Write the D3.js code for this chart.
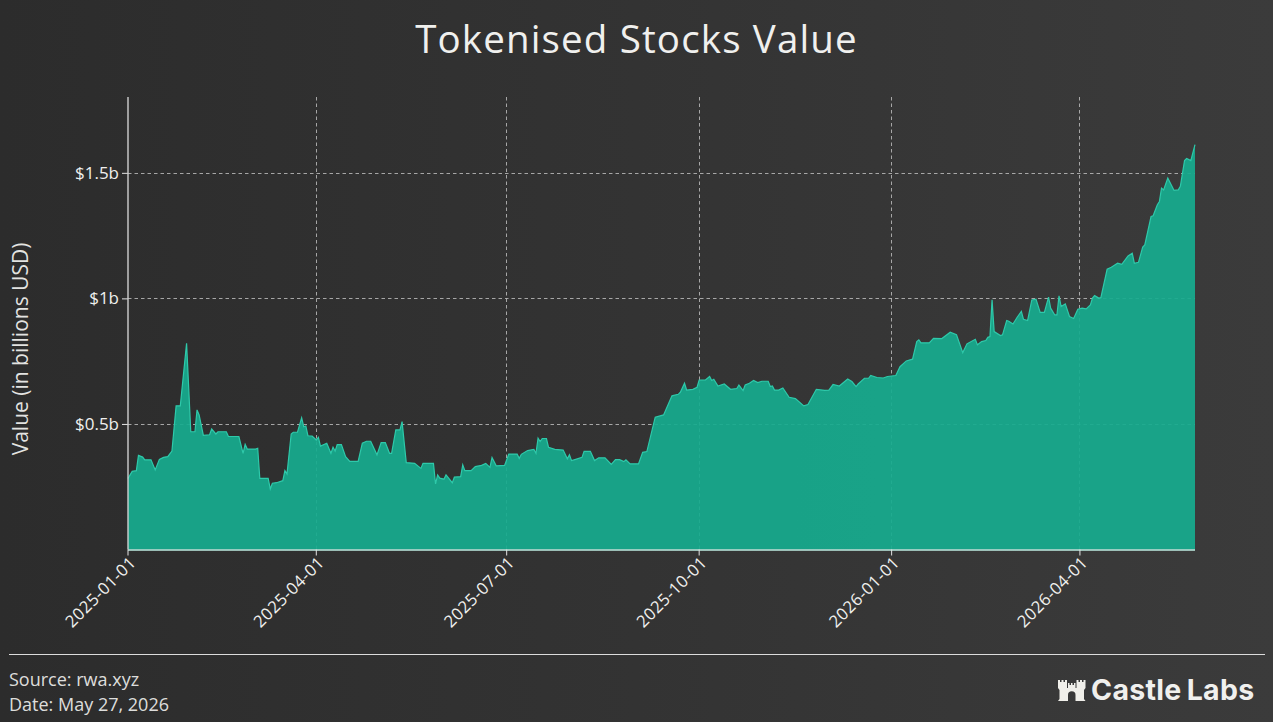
<!DOCTYPE html>
<html>
<head>
<meta charset="utf-8">
<script src="https://cdn.jsdelivr.net/npm/d3@7"></script>
<style>
html, body { margin: 0; padding: 0; background: #333; overflow: hidden; }
svg { display: block; }
text { font-family: "Open Sans", sans-serif; fill: #f0f0ee; }
</style>
</head>
<body>
<svg id="chart" width="1273" height="722"></svg>
<script>
// Days since 2025-01-01 and total tokenised stock value in millions of USD.
const dayOffsets = [
  0,1,2,4,5,7,8,11,13,15,17,19,21,23,25,28,30,32,33,34,36,39,40,42,43,47,48,53,55,56,57,61,62,63,67,68,69,71,74,75,76,78,79,81,83,84,85,86,88,90,
  91,92,95,97,98,99,100,102,104,106,110,112,114,116,119,121,123,125,126,128,130,131,133,137,140,141,146,147,148,149,151,152,155,156,159,160,161,164,166,169,171,173,174,176,180,182,186,187,188,191,
  194,195,196,197,198,200,201,204,208,210,211,212,214,217,218,221,223,225,228,231,233,235,237,238,240,244,246,248,252,256,260,263,264,266,267,270,272,273,276,278,279,280,282,285,288,291,292,294,295,297,
  299,301,303,306,307,308,309,311,313,316,319,323,325,329,333,335,337,340,344,346,348,349,352,354,355,358,361,363,367,369,372,375,377,378,379,383,385,389,393,396,399,401,405,406,408,410,411,412,413,414,
  417,418,420,421,423,425,427,428,430,432,434,436,438,440,441,443,444,445,446,448,450,452,454,456,458,460,461,462,464,465,468,470,473,475,478,480,481,483,485,486,489,490,492,493,494,495,497,500,502,503,505,506,508,510
];
const valuesMillions = [
  283,297,311,314,375,368,357,357,317,359,367,370,392,572,572,821,469,469,556,536,455,457,480,460,469,469,450,450,383,419,400,400,403,283,283,241,264,266,274,314,301,460,467,467,524,489,492,453,452,436,
  447,412,423,383,407,392,418,418,370,351,351,423,431,431,377,426,426,383,383,476,476,509,346,343,323,343,343,261,297,284,280,297,266,288,290,337,314,314,330,335,343,327,366,333,335,380,380,363,379,394,
  399,383,443,430,442,442,407,399,396,361,377,354,359,367,391,391,354,365,365,339,358,358,350,357,341,341,387,390,527,536,612,618,626,662,635,638,646,675,675,689,673,678,651,659,638,641,655,633,655,662,
  673,665,670,670,649,651,635,635,643,606,601,572,577,638,634,635,657,651,679,669,649,659,682,682,693,685,683,689,693,728,751,758,828,835,823,823,841,840,865,855,784,819,837,815,828,832,845,848,994,868,
  852,855,912,909,898,925,948,917,912,994,997,944,944,1005,961,934,934,1010,968,978,928,920,957,961,958,974,1001,1011,1001,1003,1116,1124,1140,1136,1169,1180,1140,1144,1204,1213,1326,1329,1373,1386,1439,1432,1479,1430,1432,1446,1549,1557,1549,1612
];
const xTickDates = ["2025-01-01","2025-04-01","2025-07-01","2025-10-01","2026-01-01","2026-04-01"];
const yTickValues = [500, 1000, 1500];
const yTickLabels = ["$0.5b", "$1b", "$1.5b"];
const chartTitle = "Tokenised Stocks Value";
const yAxisTitle = "Value (in billions USD)";
const footerLines = ["Source: rwa.xyz", "Date: May 27, 2026"];
const brandName = "Castle Labs";

const parseDate = d3.utcParse("%Y-%m-%d");
const startDate = parseDate("2025-01-01");
const series = dayOffsets.map((d, i) => ({
  date: d3.utcDay.offset(startDate, d),
  value: valuesMillions[i]
}));

const plot = { left: 128, right: 1195, top: 97, bottom: 549.5 };
const x = d3.scaleUtc()
  .domain([startDate, d3.utcDay.offset(startDate, 510)])
  .range([plot.left, plot.right]);
const y = d3.scaleLinear()
  .domain([0, 1802])
  .range([plot.bottom, plot.top]);

const svg = d3.select("#chart");

// Page background: a soft left-to-right lift in the charcoal.
const defs = svg.append("defs");
const bg = defs.append("linearGradient").attr("id", "page-bg")
  .attr("x1", 0).attr("y1", 0).attr("x2", 1).attr("y2", 0);
bg.append("stop").attr("offset", "0%").attr("stop-color", "#2c2c2c");
bg.append("stop").attr("offset", "50%").attr("stop-color", "#333333");
bg.append("stop").attr("offset", "100%").attr("stop-color", "#3b3b3b");
svg.append("rect").attr("width", 1273).attr("height", 722).attr("fill", "url(#page-bg)");

// Dashed reference grid, drawn under the translucent area.
const grid = svg.append("g")
  .attr("stroke", "#c4c4c4")
  .attr("stroke-opacity", 0.8)
  .attr("stroke-width", 1)
  .attr("stroke-dasharray", "3.5 3");
grid.selectAll("line.v").data(xTickDates.slice(1)).join("line")
  .attr("class", "v")
  .attr("x1", d => Math.floor(x(parseDate(d))) + 0.5)
  .attr("x2", d => Math.floor(x(parseDate(d))) + 0.5)
  .attr("y1", plot.top).attr("y2", plot.bottom);
grid.selectAll("line.h").data(yTickValues).join("line")
  .attr("class", "h")
  .attr("x1", plot.left).attr("x2", plot.right)
  .attr("y1", d => Math.round(y(d)) + 0.5)
  .attr("y2", d => Math.round(y(d)) + 0.5);

// Value area with a slightly brighter outline along its top edge.
const area = d3.area()
  .x(d => x(d.date))
  .y0(y(0))
  .y1(d => y(d.value))
  .curve(d3.curveLinear);
const topLine = d3.line()
  .x(d => x(d.date))
  .y(d => y(d.value))
  .curve(d3.curveLinear);
svg.append("path").datum(series)
  .attr("d", area)
  .attr("fill", "#17ab8e")
  .attr("fill-opacity", 0.93);
svg.append("path").datum(series)
  .attr("d", topLine)
  .attr("fill", "none")
  .attr("stroke", "#2ec9aa")
  .attr("stroke-width", 1.2);

// Axes.
const xAxis = d3.axisBottom(x)
  .tickValues(xTickDates.map(parseDate))
  .tickFormat(d3.utcFormat("%Y-%m-%d"))
  .tickSizeInner(6).tickSizeOuter(0).tickPadding(3);
const gx = svg.append("g")
  .attr("transform", `translate(-0.5,${plot.bottom})`)
  .call(xAxis);
gx.select(".domain").attr("stroke", "#bfeee3").attr("stroke-width", 1.4);
gx.selectAll(".tick line").attr("stroke", "#e4e4e4");
gx.selectAll(".tick text")
  .attr("font-size", 16.7)
  .attr("text-anchor", "end")
  .attr("dx", -3.7)
  .attr("dy", 7.4)
  .attr("transform", "rotate(-45)")
  .style("letter-spacing", "0.45px");

const yAxis = d3.axisLeft(y)
  .tickValues(yTickValues)
  .tickFormat((d, i) => yTickLabels[i])
  .tickSize(6).tickPadding(3);
const gy = svg.append("g")
  .attr("transform", `translate(${plot.left},0)`)
  .call(yAxis);
gy.select(".domain").remove();
gy.selectAll(".tick line").attr("stroke", "#e4e4e4");
gy.selectAll(".tick text").attr("font-size", 17);
svg.append("line")
  .attr("x1", plot.left).attr("x2", plot.left)
  .attr("y1", plot.top).attr("y2", plot.bottom)
  .attr("stroke", "#cfcfcf").attr("stroke-width", 1.4);

// Title and axis title.
svg.append("text")
  .attr("x", 636.5).attr("y", 53)
  .attr("text-anchor", "middle")
  .attr("font-size", 38.5)
  .style("letter-spacing", "1.15px")
  .text(chartTitle);
svg.append("text")
  .attr("transform", "translate(28,349) rotate(-90)")
  .attr("text-anchor", "middle")
  .attr("font-size", 21)
  .attr("fill-opacity", 0.95)
  .text(yAxisTitle);

// Footer rule, source notes and wordmark.
svg.append("line")
  .attr("x1", 9).attr("x2", 1265)
  .attr("y1", 654.5).attr("y2", 654.5)
  .attr("stroke", "#dcdcdc").attr("stroke-width", 1.2);
svg.selectAll("text.note").data(footerLines).join("text")
  .attr("class", "note")
  .attr("x", 9)
  .attr("y", (d, i) => 686 + i * 25)
  .attr("font-size", 18)
  .attr("fill-opacity", 0.92)
  .text(d => d);

// Castle emblem: two outer towers, a lower crenellated wall and an arched gate.
const logo = svg.append("g").attr("transform", "translate(1058,680)").attr("fill", "#f0efea");
logo.append("path")
  .attr("fill-rule", "evenodd")
  .attr("d", "M0 0h2v2h1.5V0h2v2H7V0h2v8h1V3h1.5v2H13V3h1.5v2H16V3h1.5v5h1V0h2v2H22V0h2v2h1.5V0h2v8l-1.5 2v9l1.5 2H0l1.5-2v-9L0 8ZM10 21v-6a3.7 3.7 0 0 1 7.5 0v6Z");
svg.append("text")
  .attr("x", 1091).attr("y", 700)
  .style("font-family", "Inter, sans-serif")
  .attr("font-size", 28.5)
  .attr("font-weight", 700)
  .style("letter-spacing", "0.3px")
  .style("word-spacing", "-2px")
  .attr("fill", "#f0efea")
  .text(brandName);
</script>
</body>
</html>
